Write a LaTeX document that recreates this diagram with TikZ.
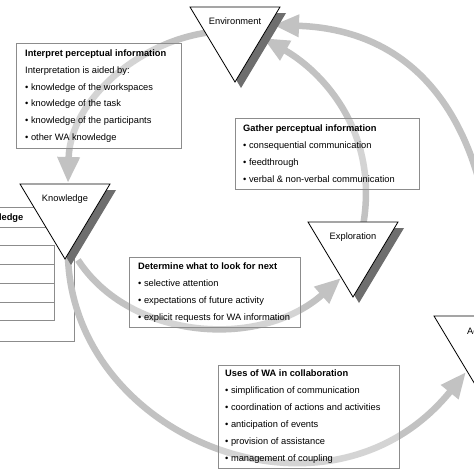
\documentclass[tikz,border=0pt]{standalone}
\usepackage{fontspec}
\setmainfont{Liberation Sans}
\usetikzlibrary{arrows.meta}
\definecolor{arr}{HTML}{C2C2C2}
\definecolor{shd}{HTML}{6E6E6E}
\definecolor{bord}{HTML}{8C8C8C}
\begin{document}
\begin{tikzpicture}[x=1pt,y=-1pt,
  flow/.style={draw=arr, line width=6.5pt, -{Triangle[length=26pt,width=21pt]}},
  wabox/.style={draw=bord, line width=0.9pt, fill=white, fill opacity=0.3, anchor=north west, inner sep=0pt},
  txt/.style={anchor=base west, inner sep=0pt, font=\fontsize{9.3}{11}\selectfont},
  hd/.style={anchor=base west, inner sep=0pt, font=\fontsize{9.3}{11}\selectfont\bfseries},
  tri/.style={draw=black, line width=0.8pt, fill=white, line join=miter},
  trilabel/.style={anchor=base, inner sep=0pt, font=\fontsize{9.3}{11}\selectfont},
  tbl/.style={draw=bord, line width=0.9pt}]

\useasboundingbox (0,0) rectangle (474,474);
\clip (0,0) rectangle (474,474);
\fill[white] (0,0) rectangle (474,474);

% left (cut-off) knowledge table
\draw[tbl] (-5,207) rectangle (74,341);
\draw[tbl] (-5,227) -- (74,227);
\draw[tbl] (-5,245) rectangle (54,320);
\foreach \yy in {264,283,302} \draw[tbl] (-5,\yy) -- (54,\yy);
\node[hd, anchor=base east] (kntab) at (23.5,220.5) {Knowledge};

% connector end points
\coordinate (envL) at (212,32);
\coordinate (knTop) at (68,183);
\coordinate (exTop) at (363,226);
\coordinate (envR1) at (263,38);
\coordinate (acTop) at (495,312);
\coordinate (envR2) at (273,25);
\coordinate (knBotR) at (78,260);
\coordinate (exL) at (341,278);
\coordinate (knBot) at (68,258);
\coordinate (acL) at (466,372);

% arrows
\draw[flow] (envL) .. controls (140,40) and (70,100) .. (knTop);
\draw[flow] (exTop) .. controls (380,130) and (320,70) .. (envR1);
\draw[flow] (acTop) .. controls (495,140) and (430,30) .. (envR2);
\draw[flow] (knBotR) .. controls (130,340) and (260,350) .. (exL);
\draw[flow] (knBot) .. controls (75,440) and (330,540) .. (acL);

% boxes
\node[wabox, minimum width=165pt, minimum height=105pt] (interp) at (16,43) {};
\node[wabox, minimum width=184pt, minimum height=71pt] (gather) at (235,118) {};
\node[wabox, minimum width=171pt, minimum height=70pt] (determine) at (129,257) {};
\node[wabox, minimum width=181pt, minimum height=103pt] (uses) at (218,365) {};

% box texts
\node[hd] (interp-h) at (25,56.5) {Interpret perceptual information};
\foreach \t [count=\i] in {Interpretation is aided by:,
  • knowledge of the workspaces, • knowledge of the task,
  • knowledge of the participants, • other WA knowledge}
  \node[txt] (interp-\i) at (25,56.5+16.8*\i) {\t};

\node[hd] (gather-h) at (243,131.3) {Gather perceptual information};
\foreach \t [count=\i] in {• consequential communication, • feedthrough,
  • verbal \& non-verbal communication}
  \node[txt] (gather-\i) at (243,131.3+17*\i) {\t};

\node[hd] (determine-h) at (138,269.5) {Determine what to look for next};
\foreach \t [count=\i] in {• selective attention, • expectations of future activity,
  • explicit requests for WA information}
  \node[txt] (determine-\i) at (138,269.5+16.9*\i) {\t};

\node[hd] (uses-h) at (225,376.3) {Uses of WA in collaboration};
\foreach \t [count=\i] in {• simplification of communication,
  • coordination of actions and activities, • anticipation of events,
  • provision of assistance, • management of coupling}
  \node[txt] (uses-\i) at (225,376.3+16.95*\i) {\t};

% triangles with shadows
\foreach \n/\x/\y/\lab/\lx/\ly in {env/190/7/Environment/235/24.5,
    kn/20/184/Knowledge/65/201.5, ex/308/222/Exploration/353/239.5,
    ac/434/316/Action/480/334.5}{
  \fill[shd] (\x+6,\y+6) -- ++(90,0) -- ++(-45,75) -- cycle;
  \draw[tri] (\x,\y) -- ++(90,0) -- ++(-45,75) -- cycle;
  \node[trilabel] (\n) at (\lx,\ly) {\lab};
}
\end{tikzpicture}
\end{document}
